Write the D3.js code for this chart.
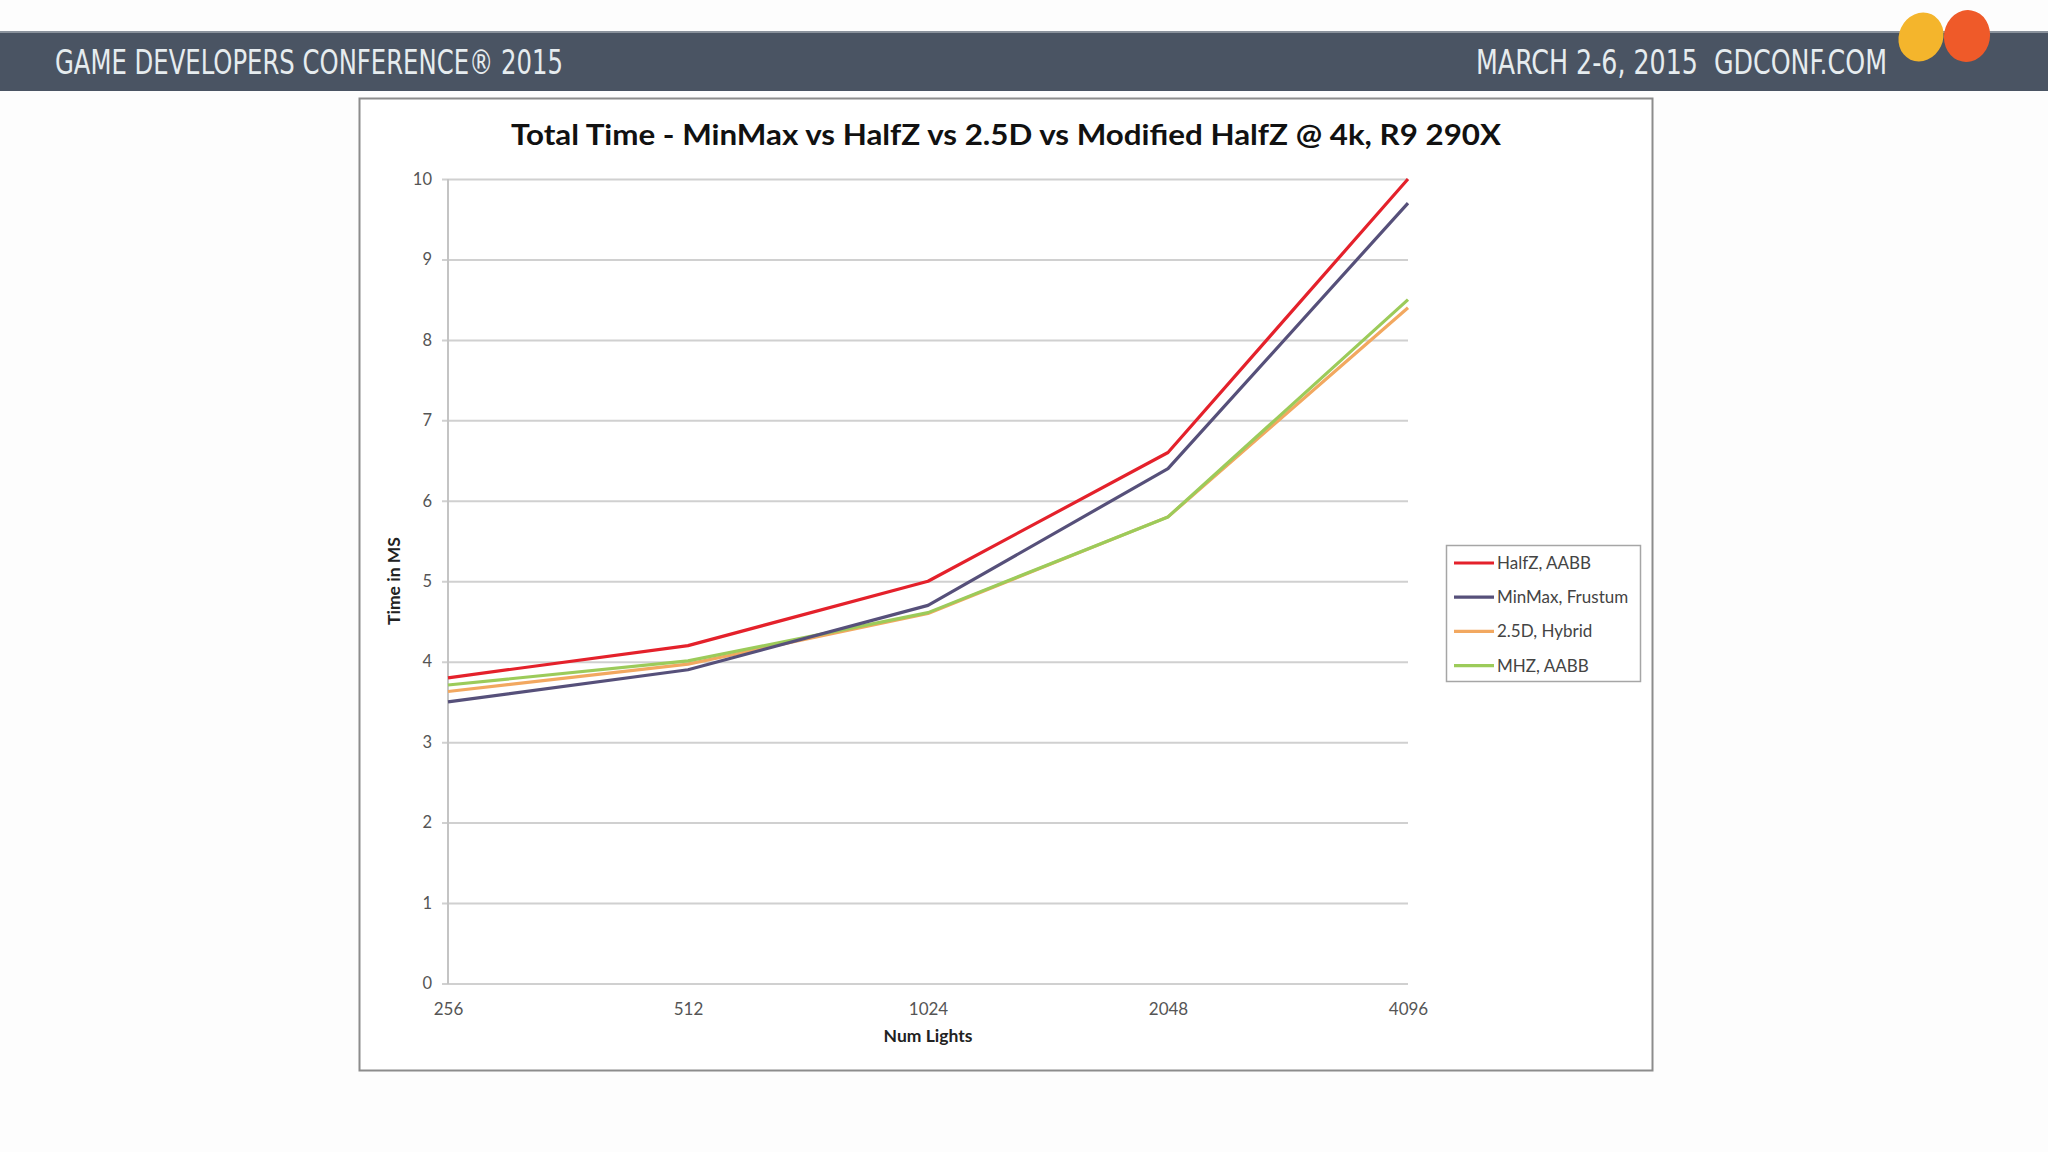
<!DOCTYPE html>
<html><head><meta charset="utf-8">
<script src="https://cdn.jsdelivr.net/npm/d3@7"></script>
<style>
html,body{margin:0;padding:0;background:#fdfdfd;}
svg{display:block;}
</style></head>
<body>
<svg id="c" width="2048" height="1152"></svg>
<script>
const categories = ["256", "512", "1024", "2048", "4096"];
const seriesNames = ["HalfZ, AABB", "MinMax, Frustum", "2.5D, Hybrid", "MHZ, AABB"];
const halfZ = [3.8, 4.2, 5.0, 6.6, 10.0];
const minMax = [3.5, 3.9, 4.7, 6.4, 9.7];
const hybrid25D = [3.63, 3.97, 4.6, 5.8, 8.4];
const mhz = [3.71, 4.01, 4.61, 5.8, 8.5];
const yTicks = [0, 1, 2, 3, 4, 5, 6, 7, 8, 9, 10];
const colors = ["#e4212b", "#56507a", "#f2a860", "#9ccb5a"];
const seriesValues = [halfZ, minMax, hybrid25D, mhz];
const drawOrder = [2, 3, 1, 0];

const svg = d3.select("#c");
svg.append("rect").attr("width", 2048).attr("height", 1152).attr("fill", "#fdfdfd");

// header bar
svg.append("rect").attr("x", 0).attr("y", 31).attr("width", 2048).attr("height", 60).attr("fill", "#4a5463");
svg.append("rect").attr("x", 0).attr("y", 31).attr("width", 2048).attr("height", 2).attr("fill", "#8a929c");
const hdrFont = "'Liberation Sans Narrow','DejaVu Sans Condensed',sans-serif";
svg.append("text").attr("x", 55).attr("y", 74).attr("font-family", hdrFont).attr("font-size", 33)
  .attr("fill", "#e6ecef").attr("textLength", 508).attr("lengthAdjust", "spacingAndGlyphs")
  .text("GAME DEVELOPERS CONFERENCE® 2015");
svg.append("text").attr("x", 1476).attr("y", 74).attr("font-family", hdrFont).attr("font-size", 33)
  .attr("fill", "#e6ecef").attr("textLength", 411).attr("lengthAdjust", "spacingAndGlyphs")
  .attr("xml:space", "preserve")
  .text("MARCH 2-6, 2015  GDCONF.COM");
// logo
svg.append("ellipse").attr("cx", 1921).attr("cy", 37).attr("rx", 22).attr("ry", 25)
  .attr("transform", "rotate(25,1921,37)").attr("fill", "#f4b52c");
svg.append("ellipse").attr("cx", 1967).attr("cy", 36).attr("rx", 23).attr("ry", 26)
  .attr("transform", "rotate(10,1967,36)").attr("fill", "#ef5a29");

// chart box
svg.append("rect").attr("x", 359.5).attr("y", 98.5).attr("width", 1293).attr("height", 972)
  .attr("fill", "#ffffff").attr("stroke", "#8c8c8c").attr("stroke-width", 2);

const font = "Lato, 'Open Sans', sans-serif";
svg.append("text").attr("x", 1006).attr("y", 145).attr("text-anchor", "middle")
  .attr("font-family", font).attr("font-weight", "bold").attr("font-size", 29).attr("fill", "#111")
  .attr("textLength", 990).attr("lengthAdjust", "spacingAndGlyphs")
  .text("Total Time - MinMax vs HalfZ vs 2.5D vs Modified HalfZ @ 4k, R9 290X");

const x = d3.scalePoint().domain(categories).range([448, 1408]).padding(0);
const y = d3.scaleLinear().domain([0, 10]).range([983.5, 179]);
const W = 960;

const gy = svg.append("g").attr("transform", "translate(448,0)")
  .call(d3.axisLeft(y).tickValues(yTicks).tickSize(-W).tickSizeOuter(0).tickFormat(d3.format("d")));
gy.select(".domain").remove();
gy.selectAll(".tick line").attr("x1", -6).attr("x2", W).attr("stroke", "#d0d0d0").attr("stroke-width", 2);
gy.selectAll(".tick text").attr("x", -16).attr("font-family", font).attr("font-size", 16.5).attr("fill", "#555");

svg.append("line").attr("x1", 448).attr("x2", 448).attr("y1", 179).attr("y2", 984)
  .attr("stroke", "#c4c4c4").attr("stroke-width", 2);

const gx = svg.append("g").attr("transform", "translate(0,983.5)")
  .call(d3.axisBottom(x).tickSize(0).tickSizeOuter(0));
gx.select(".domain").remove();
gx.selectAll(".tick text").attr("y", 26).attr("dy", "0.32em").attr("font-family", font).attr("font-size", 17).attr("fill", "#555");

svg.append("text").attr("x", 928).attr("y", 1042).attr("text-anchor", "middle")
  .attr("font-family", font).attr("font-weight", "bold").attr("font-size", 17.5).attr("fill", "#222")
  .text("Num Lights");
svg.append("text").attr("transform", "translate(400,581) rotate(-90)").attr("text-anchor", "middle")
  .attr("font-family", font).attr("font-weight", "bold").attr("font-size", 17.5).attr("fill", "#222")
  .text("Time in MS");

const line = d3.line().x((d, i) => x(categories[i])).y(d => y(d));
drawOrder.forEach(s => {
  svg.append("path").attr("d", line(seriesValues[s])).attr("fill", "none")
    .attr("stroke", colors[s]).attr("stroke-width", 3.2).attr("stroke-linejoin", "round");
});

// legend
const lg = svg.append("g");
lg.append("rect").attr("x", 1446.5).attr("y", 545.5).attr("width", 194).attr("height", 136)
  .attr("fill", "#fff").attr("stroke", "#a6a6a6").attr("stroke-width", 1.5);
seriesNames.forEach((n, i) => {
  const yy = 563 + i * 34.2;
  lg.append("line").attr("x1", 1454).attr("x2", 1494).attr("y1", yy).attr("y2", yy)
    .attr("stroke", colors[i]).attr("stroke-width", 3.2);
  lg.append("text").attr("x", 1497).attr("y", yy).attr("dy", "0.35em")
    .attr("font-family", font).attr("font-size", 17).attr("fill", "#444").text(n);
});
</script>
</body></html>
